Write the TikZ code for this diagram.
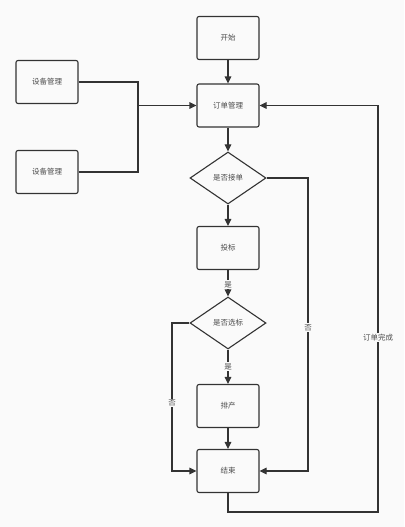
\documentclass[tikz,border=0pt]{standalone}
\usepackage{fontspec}
\newfontfamily\cjk{Noto Sans CJK SC}
\usetikzlibrary{arrows.meta,shapes.geometric}
\begin{document}
\begin{tikzpicture}[x=1pt,y=-1pt,
  line width=1.1pt,
  every node/.style={font=\cjk\fontsize{7.5}{9}\selectfont, text=black!70},
  box/.style={draw=black!80, rounded corners=2pt, minimum width=62pt, minimum height=43pt, inner sep=0pt, fill=white!98!black},
  dia/.style={draw=black!80, diamond, aspect=1.45, minimum width=76pt, minimum height=52pt, inner sep=0pt, fill=white!98!black},
  conn/.style={draw=black!80, line width=1.1pt},
  arr/.style={conn, -{Triangle[length=7pt,width=6.5pt]}},
  lbl/.style={fill=white!98!black, inner sep=1pt}]
\fill[white!98!black] (0,0) rectangle (404,527);
\useasboundingbox (0,0) rectangle (404,527);
\node[box] (start) at (228,38) {开始};
\node[box] (order) at (228,105.5) {订单管理};
\node[box] (dev1) at (47,82) {设备管理};
\node[box] (dev2) at (47,172) {设备管理};
\node[dia] (accept) at (228,178) {是否接单};
\node[box] (bid) at (228,248) {投标};
\node[dia] (select) at (228,323) {是否选标};
\node[box] (prod) at (228,406) {排产};
\node[box] (end) at (228,471) {结束};
\coordinate (mj) at (138,105.5);
\coordinate (rno) at (308,178);
\coordinate (lno) at (172,323);
\coordinate (done) at (378,512);
\draw[arr] (start) -- (order);
\draw[conn] (dev1.east) -| (mj);
\draw[conn] (dev2.east) -| (mj);
\draw[arr] (mj) -- (order.west);
\draw[arr] (order) -- (accept);
\draw[arr] (accept) -- (bid);
\draw[arr] (bid) -- node[lbl, pos=0.55]{是} (select);
\draw[arr] (select) -- node[lbl, pos=0.5]{是} (prod);
\draw[arr] (prod) -- (end);
\draw[arr] (accept.east) -- (rno) -- node[lbl, pos=0.51]{否} (rno |- end) -- (end.east);
\draw[arr] (select.west) -- (lno) -- node[lbl, pos=0.54]{否} (lno |- end) -- (end.west);
\draw[arr] (end.south) -- (end.south |- done) -- (done) -- node[lbl, pos=0.43]{订单完成} (done |- order) -- (order.east);
\end{tikzpicture}
\end{document}
